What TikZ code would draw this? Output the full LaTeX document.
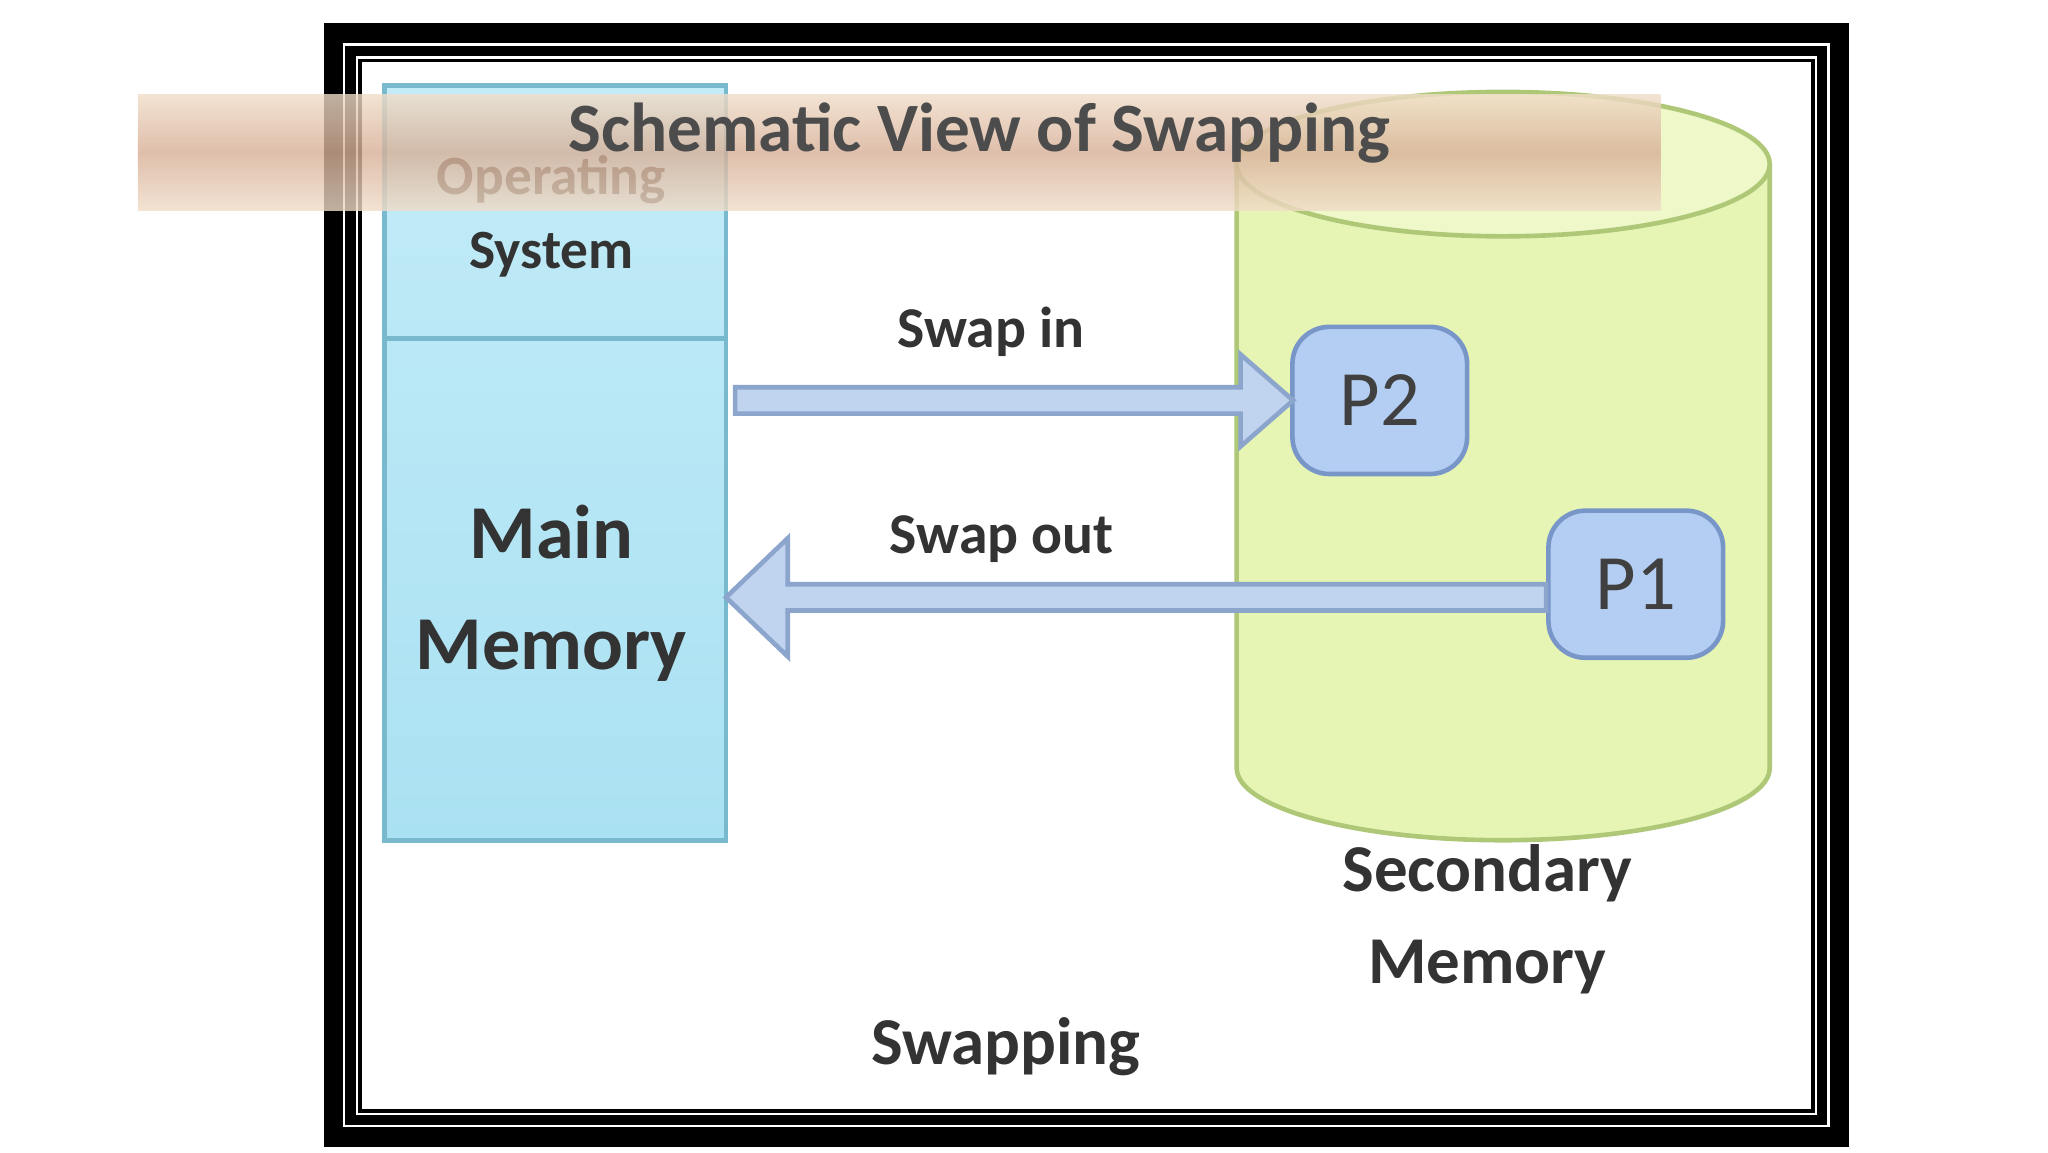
\documentclass[tikz,border=0pt]{standalone}
\usepackage{fontspec}
\setmainfont{Carlito}
\definecolor{mmfill}{RGB}{195,236,248}
\definecolor{mmfill2}{RGB}{170,225,242}
\definecolor{mmline}{RGB}{120,185,205}
\definecolor{cyl}{RGB}{230,245,180}
\definecolor{cyltop}{RGB}{238,248,200}
\definecolor{cylline}{RGB}{175,200,120}
\definecolor{pfill}{RGB}{180,205,242}
\definecolor{pline}{RGB}{120,150,200}
\definecolor{afill}{RGB}{192,212,240}
\definecolor{aline}{RGB}{140,165,205}
\definecolor{ban1}{RGB}{215,175,150}
\definecolor{ban2}{RGB}{240,220,200}
\begin{document}
\begin{tikzpicture}[x=0.01cm,y=-0.01cm,
  lbl/.style={font=\bfseries, text=black!80, align=center},
  pbox/.style={draw=pline, fill=pfill, rounded corners=8pt, line width=1pt, minimum width=1.33cm, minimum height=1.12cm, font=\fontsize{17}{20}\selectfont, text=black!75},
  arr/.style={draw=aline, fill=afill, line width=1pt}]
\useasboundingbox (0,0) rectangle (1560,877.5);
\fill[white] (0,0) rectangle (1560,877.5);
% frame
\draw[line width=4.2pt] (254,25) rectangle (1401,866);
\draw[line width=2.2pt] (267,39) rectangle (1388,853);
\draw[line width=0.8pt] (274,46) rectangle (1381,846);
% main memory
\shade[top color=mmfill, bottom color=mmfill2] (293,65) rectangle (553,640);
\draw[mmline, line width=1pt] (293,65) rectangle (553,640);
\draw[mmline, line width=1pt] (293,258) -- (553,258);
\node[lbl, font=\bfseries\fontsize{12}{14}\selectfont] (os) at (420,165) {Operating\\[2pt]System};
\node[lbl, font=\bfseries\fontsize{16.5}{24}\selectfont] (mm) at (420,452) {Main\\Memory};
% cylinder
\fill[cyl] (942,125) -- (942,585) arc[start angle=180,end angle=0,x radius=203,y radius=55] -- (1348,125) arc[start angle=0,end angle=-180,x radius=203,y radius=55] -- cycle;
\draw[cylline, line width=1pt] (942,125) -- (942,585) arc[start angle=180,end angle=0,x radius=203,y radius=55] -- (1348,125);
\draw[cylline, line width=1pt, fill=cyltop] (1145,125) ellipse[x radius=203,y radius=55];
\node[pbox] (p2) at (1051,305) {P2};
\node[pbox] (p1) at (1246,445) {P1};
% arrows
\draw[arr] (560,295) -- (945,295) -- (945,270) -- (985,305) -- (945,340) -- (945,315) -- (560,315) -- cycle;
\draw[arr] (p1.west |- 0,445) -- (600,445) -- (600,410) -- (553,455) -- (600,500) -- (600,465) -- (p1.west |- 0,465) -- cycle;
\node[lbl, font=\bfseries\fontsize{12.5}{15}\selectfont] (si) at (755,253) {Swap in};
\node[lbl, font=\bfseries\fontsize{12.5}{15}\selectfont] (so) at (763,411) {Swap out};
\node[lbl, font=\bfseries\fontsize{14.5}{20}\selectfont] (sm) at (1133,700) {Secondary\\Memory};
\node[lbl, font=\bfseries\fontsize{14.5}{17}\selectfont] (sw) at (766,797) {Swapping};
% title banner
\shade[top color=ban2, bottom color=ban2, middle color=ban1, opacity=0.8] (105,72) rectangle (1265,160);
\node[font=\bfseries\fontsize{15}{18}\selectfont, text=black!70] (t) at (746,101) {Schematic View of Swapping};
\end{tikzpicture}
\end{document}
